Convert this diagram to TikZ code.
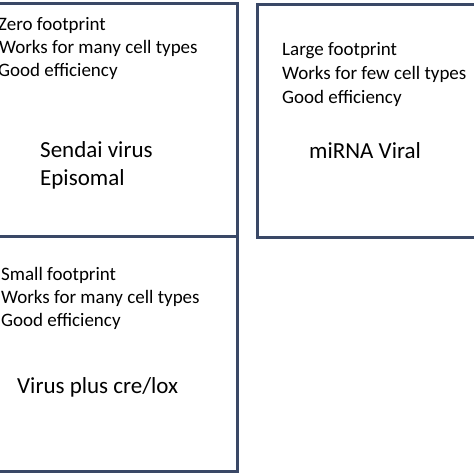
\documentclass[tikz,border=0pt]{standalone}
\usepackage{fontspec}
\setmainfont{Carlito}
\definecolor{boxline}{HTML}{3A4866}
\tikzset{
  panel/.style={draw=boxline, line width=3pt},
  small/.style={anchor=base west, inner sep=0pt, font=\fontsize{19}{21}\selectfont},
  big/.style={anchor=base west, inner sep=0pt, font=\fontsize{23}{26}\selectfont}
}
\begin{document}
\begin{tikzpicture}[x=1pt,y=-1pt]
\useasboundingbox (0,0) rectangle (474,474);
\fill[white] (0,0) rectangle (474,474);
\begin{scope}
\clip (0,0) rectangle (474,474);
\draw[panel] (-10,3) rectangle (237,236);
\draw[panel] (-10,236) rectangle (237,471);
\draw[panel] (257,4) rectangle (490,237);
\end{scope}
% top-left
\node[small] (a1) at (-2,30) {Zero footprint};
\node[small] (a2) at (-1,53) {Works for many cell types};
\node[small] (a3) at (-2,76) {Good efficiency};
\node[big] (a4) at (40,157) {Sendai virus};
\node[big] (a5) at (40,185) {Episomal};
% right
\node[small] (b1) at (282,55) {Large footprint};
\node[small] (b2) at (282,79) {Works for few cell types};
\node[small] (b3) at (282,103) {Good efficiency};
\node[big] (b4) at (309,158) {miRNA Viral};
% bottom-left
\node[small] (c1) at (1,280) {Small footprint};
\node[small] (c2) at (1,303) {Works for many cell types};
\node[small] (c3) at (1,326) {Good efficiency};
\node[big] (c4) at (17,393) {Virus plus cre/lox};
\end{tikzpicture}
\end{document}
